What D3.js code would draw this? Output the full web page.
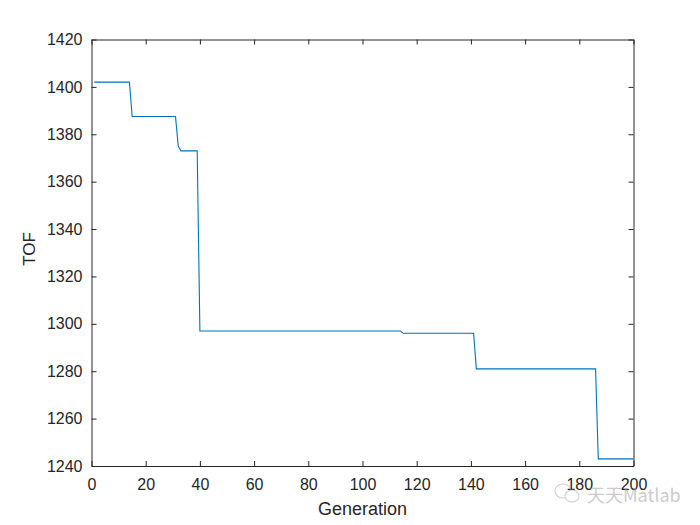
<!DOCTYPE html>
<html><head><meta charset="utf-8">
<script src="https://cdn.jsdelivr.net/npm/d3@7"></script>
<style>body{margin:0;background:#fff}svg{display:block}</style>
</head><body>
<script>
// Step levels: [first generation, value] — value holds until the next entry
const stepStarts = [1, 15, 32, 33, 40, 115, 142, 187];
const stepValues = [1402, 1387.5, 1375, 1373, 1297, 1296, 1281, 1243];
const lastGen = 200;
const xTicks = [0,20,40,60,80,100,120,140,160,180,200];
const yTicks = [1240,1260,1280,1300,1320,1340,1360,1380,1400,1420];

const gens = [], vals = [];
for (let g = 1; g <= lastGen; g++) {
  let v = stepValues[0];
  for (let i = 0; i < stepStarts.length; i++) if (g >= stepStarts[i]) v = stepValues[i];
  gens.push(g); vals.push(v);
}

const W = 700, H = 525;
const m = {l: 91.5, r: 633.5, t: 39.5, b: 466};
const svg = d3.select("body").append("svg").attr("width", W).attr("height", H);
const x = d3.scaleLinear().domain([0, 200]).range([m.l, m.r]);
const y = d3.scaleLinear().domain([1240, 1420]).range([m.b, m.t]);
const ax = "#262626", font = "Liberation Sans, Arial, sans-serif";
const fmt = d3.format("d");

const line = d3.line().x((d, i) => x(gens[i])).y(d => y(d));
svg.append("path").datum(vals).attr("d", line).attr("fill", "none")
  .attr("stroke", "#0072BD").attr("stroke-width", 1.1);

function styleAxis(g) {
  g.attr("font-size", null).attr("font-family", null);
  g.selectAll("path").attr("stroke", ax);
  g.selectAll("line").attr("stroke", ax);
  g.selectAll("text").attr("fill", ax).style("font-family", font).style("font-size", "16px");
}
svg.append("g").attr("transform", `translate(0,${m.b})`)
  .call(d3.axisBottom(x).tickValues(xTicks).tickFormat(fmt).tickSizeInner(-5).tickSizeOuter(0).tickPadding(13))
  .call(styleAxis);
svg.append("g").attr("transform", `translate(0,${m.t})`)
  .call(d3.axisTop(x).tickValues(xTicks).tickSizeInner(-5).tickSizeOuter(0).tickFormat(""))
  .call(styleAxis);
svg.append("g").attr("transform", `translate(${m.l},0)`)
  .call(d3.axisLeft(y).tickValues(yTicks).tickFormat(fmt).tickSizeInner(-5).tickSizeOuter(0).tickPadding(9))
  .call(styleAxis);
svg.append("g").attr("transform", `translate(${m.r},0)`)
  .call(d3.axisRight(y).tickValues(yTicks).tickSizeInner(-5).tickSizeOuter(0).tickFormat(""))
  .call(styleAxis);

svg.append("text").attr("x", (m.l + m.r) / 2).attr("y", 515).attr("text-anchor", "middle")
  .attr("fill", ax).style("font-family", font).style("font-size", "18px").text("Generation");
svg.append("text").attr("transform", `translate(35,249) rotate(-90)`)
  .attr("text-anchor", "middle").attr("fill", ax).style("font-family", font)
  .style("font-size", "17px").text("TOF");

// watermark
const wm = svg.append("g").attr("opacity", 0.5);
wm.append("ellipse").attr("cx", 563).attr("cy", 491).attr("rx", 8).attr("ry", 7)
  .attr("fill", "none").attr("stroke", "#aaa").attr("stroke-width", 1.2);
wm.append("ellipse").attr("cx", 572).attr("cy", 496).attr("rx", 7).attr("ry", 6)
  .attr("fill", "#fff").attr("stroke", "#aaa").attr("stroke-width", 1.2);
wm.append("text").attr("x", 587).attr("y", 502).attr("fill", "#999")
  .style("font-family", "Noto Sans CJK SC, sans-serif").style("font-size", "18px").text("天天Matlab");
</script>
</body></html>
